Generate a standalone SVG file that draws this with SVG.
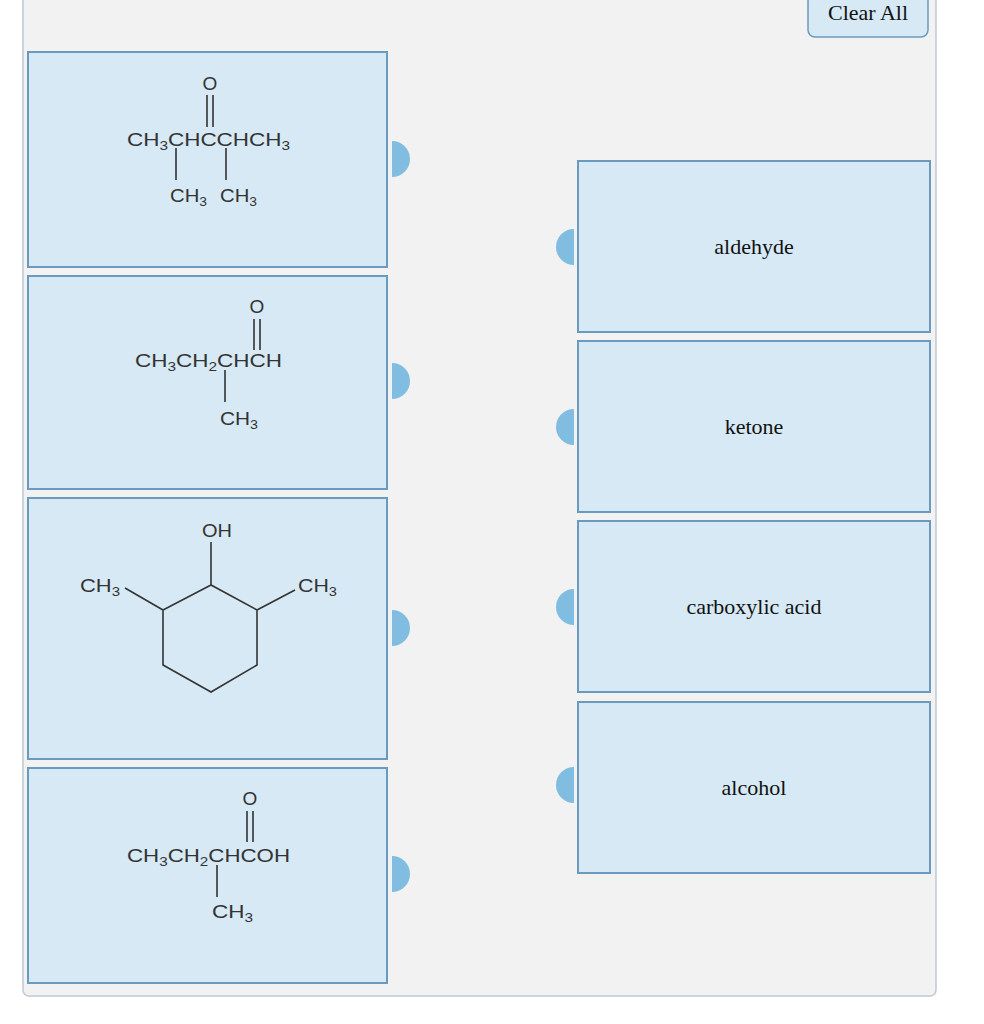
<svg xmlns="http://www.w3.org/2000/svg" width="984" height="1024" viewBox="0 0 984 1024">
<style>
.box{fill:#d6e9f5;stroke:#6a9bbf;stroke-width:2}
.dot{fill:#80bde0}
.chem{font-family:"Liberation Sans",Arial,sans-serif;font-size:19px;fill:#333}
.sub{font-size:13px}
.bond{stroke:#333;stroke-width:1.6;fill:none}
.lbl{font-family:"Liberation Serif","Times New Roman",serif;font-size:22px;fill:#111;text-anchor:middle}
</style>
<rect x="0" y="0" width="984" height="1024" fill="#fff"/>
<rect id="panel" x="23" y="-10" width="913" height="1006" rx="6" fill="#f2f2f2" stroke="#c0c8d4" stroke-width="1.5"/>
<g id="clear-all">
<rect x="808" y="-6" width="120" height="43" rx="7" fill="#d6e9f5" stroke="#6a9bbf" stroke-width="1.5"/>
<text class="lbl" x="868" y="20" font-size="24">Clear All</text>
</g>
<g id="left1">
<rect class="box" x="28" y="52" width="359" height="215"/>
<text class="chem" x="210" y="90" text-anchor="middle">O</text>
<text class="chem" x="127" y="146" textLength="163" lengthAdjust="spacingAndGlyphs">CH<tspan class="sub" dy="4">3</tspan><tspan dy="-4">CHCCHCH</tspan><tspan class="sub" dy="4">3</tspan></text>
<path class="bond" d="M207,95V127M213,95V127M176,148V180M226,148V180"/>
<text class="chem" x="170" y="202" textLength="37" lengthAdjust="spacingAndGlyphs">CH<tspan class="sub" dy="4">3</tspan></text>
<text class="chem" x="220" y="202" textLength="37" lengthAdjust="spacingAndGlyphs">CH<tspan class="sub" dy="4">3</tspan></text>
</g>
<g id="left2">
<rect class="box" x="28" y="276" width="359" height="213"/>
<text class="chem" x="257" y="313" text-anchor="middle">O</text>
<text class="chem" x="135" y="367" textLength="147" lengthAdjust="spacingAndGlyphs">CH<tspan class="sub" dy="4">3</tspan><tspan dy="-4">CH</tspan><tspan class="sub" dy="4">2</tspan><tspan dy="-4">CHCH</tspan></text>
<path class="bond" d="M254,319V350M260,319V350M225,370V402"/>
<text class="chem" x="220" y="425" textLength="38" lengthAdjust="spacingAndGlyphs">CH<tspan class="sub" dy="4">3</tspan></text>
</g>
<g id="left3">
<rect class="box" x="28" y="498" width="359" height="261"/>
<text class="chem" x="202" y="537" font-size="18" textLength="30" lengthAdjust="spacingAndGlyphs">OH</text>
<text class="chem" x="80" y="592" font-size="18" textLength="40" lengthAdjust="spacingAndGlyphs">CH<tspan class="sub" dy="4">3</tspan></text>
<text class="chem" x="298" y="592" font-size="18" textLength="39" lengthAdjust="spacingAndGlyphs">CH<tspan class="sub" dy="4">3</tspan></text>
<path class="bond" d="M211,542V585M211,585L163,610L163,665L211,692L257,665L257,610Z M125,588L163,610M295,590L257,610"/>
</g>
<g id="left4">
<rect class="box" x="28" y="768" width="359" height="215"/>
<text class="chem" x="250" y="805" text-anchor="middle">O</text>
<text class="chem" x="127" y="862" textLength="163" lengthAdjust="spacingAndGlyphs">CH<tspan class="sub" dy="4">3</tspan><tspan dy="-4">CH</tspan><tspan class="sub" dy="4">2</tspan><tspan dy="-4">CHCOH</tspan></text>
<path class="bond" d="M247,811V842M253,811V842M217,865V897"/>
<text class="chem" x="212" y="918" textLength="41" lengthAdjust="spacingAndGlyphs">CH<tspan class="sub" dy="4">3</tspan></text>
</g>
<g id="right1"><rect class="box" x="578" y="161" width="352" height="171"/><text class="lbl" x="754" y="254">aldehyde</text></g>
<g id="right2"><rect class="box" x="578" y="341" width="352" height="171"/><text class="lbl" x="754" y="434">ketone</text></g>
<g id="right3"><rect class="box" x="578" y="521" width="352" height="171"/><text class="lbl" x="754" y="614">carboxylic acid</text></g>
<g id="right4"><rect class="box" x="578" y="702" width="352" height="171"/><text class="lbl" x="754" y="795">alcohol</text></g>
<g id="connectors">
<path class="dot" d="M392,141A18,18 0 0 1 392,177Z"/>
<path class="dot" d="M392,363A18,18 0 0 1 392,399Z"/>
<path class="dot" d="M392,610A18,18 0 0 1 392,646Z"/>
<path class="dot" d="M392,856A18,18 0 0 1 392,892Z"/>
<path class="dot" d="M574,229A18,18 0 0 0 574,265Z"/>
<path class="dot" d="M574,409A18,18 0 0 0 574,445Z"/>
<path class="dot" d="M574,589A18,18 0 0 0 574,625Z"/>
<path class="dot" d="M574,767A18,18 0 0 0 574,803Z"/>
</g>
</svg>
